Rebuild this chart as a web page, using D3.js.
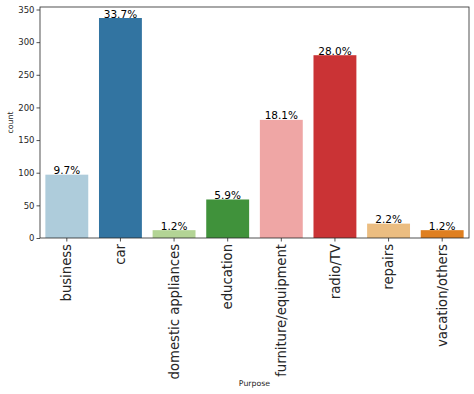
<!DOCTYPE html>
<html>
<head>
  <meta charset="UTF-8">
  <script src="https://d3js.org/d3.v7.min.js"></script>
  <style>
    body { margin: 0; background: #fff; font-family: "DejaVu Sans", sans-serif; }
    .tick text { fill: #262626; }
  </style>
</head>
<body>
  <div id="chart"></div>
  <script>
    // credit purpose counts (1000 applicants)
    const purposes = ['business', 'car', 'domestic appliances', 'education',
      'furniture/equipment', 'radio/TV', 'repairs', 'vacation/others'];
    const counts = [97, 337, 12, 59, 181, 280, 22, 12];
    const yTicks = [0, 50, 100, 150, 200, 250, 300, 350];
    const paired = ['#a6cee3', '#1f78b4', '#b2df8a', '#33a02c', '#fb9a99', '#e31a1c', '#fdbf6f', '#ff7f00'];

    const W = 474, H = 394;
    const margin = { top: 7, right: 5, bottom: 156, left: 40 };
    const width = W - margin.left - margin.right;
    const height = H - margin.top - margin.bottom;
    const total = d3.sum(counts);

    // seaborn desaturates the palette a bit
    const colors = paired.map(c => {
      const h = d3.hsl(c);
      h.s *= 0.75;
      return h.formatHex();
    });

    const svg = d3.select('#chart')
      .append('svg')
      .attr('width', W)
      .attr('height', H)
      .append('g')
      .attr('transform', `translate(${margin.left},${margin.top})`);

    const x = d3.scaleBand()
      .domain(purposes)
      .range([0, width])
      .paddingInner(0.2)
      .paddingOuter(0.1);

    const y = d3.scaleLinear()
      .domain([0, d3.max(counts) * 1.05])
      .range([height, 0]);

    svg.selectAll('.bar')
      .data(purposes)
      .enter()
      .append('rect')
      .attr('class', 'bar')
      .attr('x', d => x(d))
      .attr('y', (d, i) => y(counts[i]))
      .attr('width', x.bandwidth())
      .attr('height', (d, i) => height - y(counts[i]))
      .attr('fill', (d, i) => colors[i]);

    svg.selectAll('.pct')
      .data(purposes)
      .enter()
      .append('text')
      .attr('class', 'pct')
      .attr('x', d => x(d) + x.bandwidth() / 2)
      .attr('y', (d, i) => y(counts[i]) - 0.5)
      .attr('text-anchor', 'middle')
      .attr('font-size', 10.5)
      .attr('fill', '#000')
      .text((d, i) => (100 * counts[i] / total).toFixed(1) + '%');

    const yAxis = svg.append('g')
      .call(d3.axisLeft(y).tickValues(yTicks).tickSize(3.5).tickPadding(2));
    yAxis.selectAll('text').attr('font-size', 8.5).attr('font-family', 'DejaVu Sans');

    const xAxis = svg.append('g')
      .attr('transform', `translate(0,${height})`)
      .call(d3.axisBottom(x).tickSize(3.5).tickPadding(2));
    xAxis.selectAll('text')
      .attr('font-size', 13.2)
      .attr('font-family', 'DejaVu Sans')
      .attr('text-anchor', 'end')
      .attr('transform', 'rotate(-90)')
      .attr('x', -6)
      .attr('y', 0)
      .attr('dy', '0.35em');

    svg.selectAll('.domain').remove();
    svg.selectAll('.tick line').attr('stroke', '#262626').attr('stroke-width', 0.8);

    // frame
    svg.append('rect')
      .attr('width', width)
      .attr('height', height)
      .attr('fill', 'none')
      .attr('stroke', '#262626')
      .attr('stroke-width', 0.8);

    svg.append('text')
      .attr('x', width / 2)
      .attr('y', height + 148)
      .attr('text-anchor', 'middle')
      .attr('font-size', 7.8)
      .attr('fill', '#262626')
      .text('Purpose');

    svg.append('text')
      .attr('transform', `translate(${-27},${height / 2}) rotate(-90)`)
      .attr('text-anchor', 'middle')
      .attr('font-size', 7.8)
      .attr('fill', '#262626')
      .text('count');
  </script>
</body>
</html>
